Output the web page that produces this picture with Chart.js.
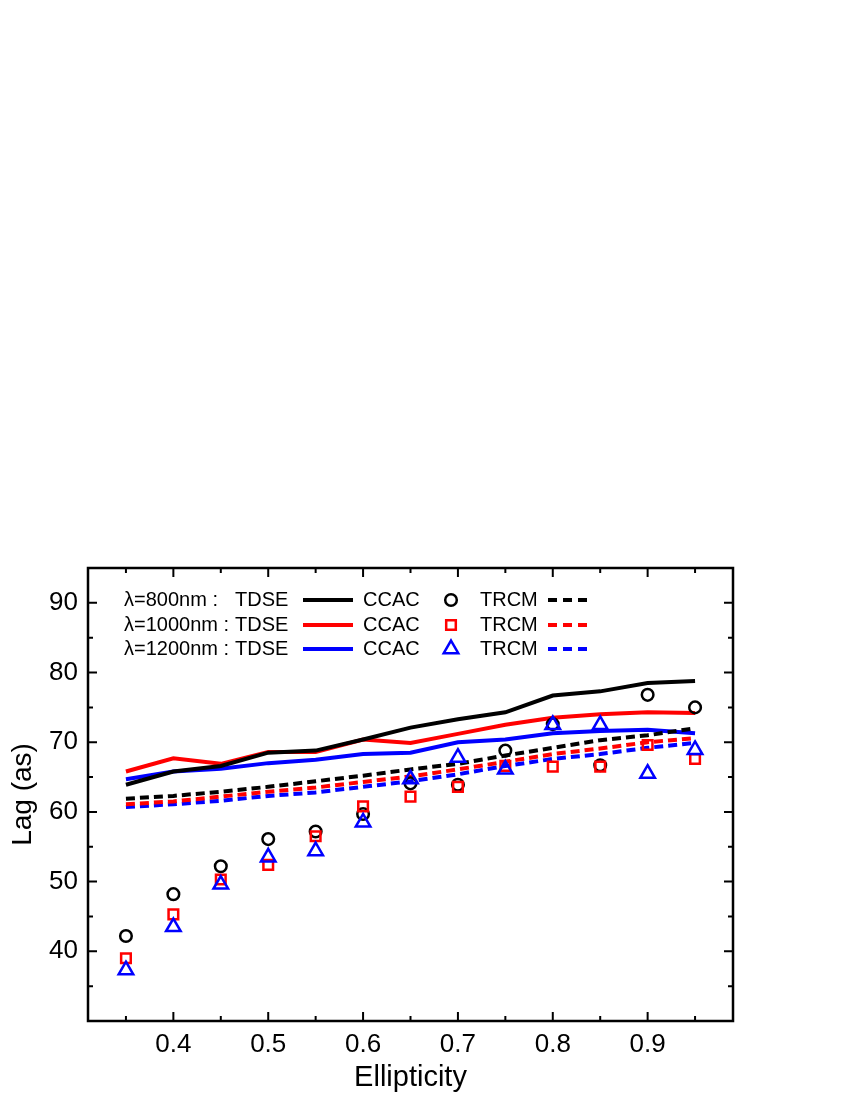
<!DOCTYPE html>
<html>
<head>
<meta charset="utf-8">
<script src="https://cdn.jsdelivr.net/npm/chart.js@4.4.1/dist/chart.umd.min.js"></script>
<style>
  html, body { margin: 0; padding: 0; background: #fff; }
  canvas { display: block; }
</style>
</head>
<body>
<canvas id="myChart" width="850" height="1100"></canvas>
<script>
// ellipticity values
const ellipticity = [0.35, 0.4, 0.45, 0.5, 0.55, 0.6, 0.65, 0.7, 0.75, 0.8, 0.85, 0.9, 0.95];

// solid lines (TDSE)
const tdse800 = [63.9, 65.8, 66.6, 68.5, 68.8, 70.4, 72.1, 73.3, 74.3, 76.7, 77.3, 78.5, 78.8];
const tdse1000 = [65.8, 67.7, 66.9, 68.6, 68.6, 70.4, 69.9, 71.2, 72.5, 73.5, 74.0, 74.3, 74.2];
const tdse1200 = [64.7, 65.8, 66.2, 67.0, 67.5, 68.3, 68.5, 70.0, 70.4, 71.3, 71.6, 71.8, 71.3];

// markers (CCAC)
const ccac800 = [42.2, 48.2, 52.2, 56.1, 57.2, 59.7, 64.1, 63.9, 68.8, 72.6, 66.7, 76.8, 75.0];
const ccac1000 = [39.0, 45.3, 50.3, 52.4, 56.5, 60.8, 62.2, 63.6, 66.6, 66.5, 66.5, 69.6, 67.6];
const ccac1200 = [37.3, 43.5, 49.6, 53.5, 54.4, 58.5, 64.7, 67.8, 66.1, 72.5, 72.5, 65.5, 68.9];

// dashed lines (TRCM)
const trcm800 = [61.9, 62.3, 62.9, 63.6, 64.4, 65.2, 66.1, 66.9, 68.1, 69.2, 70.3, 71.0, 72.0];
const trcm1000 = [61.1, 61.5, 62.2, 62.9, 63.5, 64.3, 65.1, 66.1, 67.2, 68.3, 69.1, 70.0, 70.6];
const trcm1200 = [60.7, 61.1, 61.6, 62.3, 62.8, 63.6, 64.4, 65.4, 66.6, 67.6, 68.3, 69.2, 69.9];

// ticks
const xTicks = [0.4, 0.5, 0.6, 0.7, 0.8, 0.9];
const xMinorTicks = [0.35, 0.45, 0.55, 0.65, 0.75, 0.85, 0.95];
const yTicks = [40, 50, 60, 70, 80, 90];
const yMinorTicks = [35, 45, 55, 65, 75, 85];

const wavelengths = ['λ=800nm :', 'λ=1000nm :', 'λ=1200nm :'];
const colors = ['#000000', '#ff0000', '#0000ff'];

const FONT = '"Liberation Sans", Arial, sans-serif';

const pts = (ys) => ellipticity.map((x, i) => ({x: x, y: ys[i]}));

const solidLine = (ys, color) => ({
    data: pts(ys),
    borderColor: color,
    borderWidth: 4,
    pointRadius: 0,
    tension: 0,
    order: 5,
});
const dashedLine = (ys, color) => ({
    data: pts(ys),
    borderColor: color,
    borderWidth: 4,
    borderDash: [9, 5],
    pointRadius: 0,
    tension: 0,
    order: 4,
});
const markers = (ys, color, style, r, order) => ({
    data: pts(ys),
    showLine: false,
    borderColor: color,
    backgroundColor: 'rgba(0,0,0,0)',
    borderWidth: 2.5,
    pointStyle: style,
    pointRadius: r,
    order: order,
});

const data = {
    datasets: [
        solidLine(tdse800, colors[0]),
        solidLine(tdse1000, colors[1]),
        solidLine(tdse1200, colors[2]),
        dashedLine(trcm800, colors[0]),
        dashedLine(trcm1000, colors[1]),
        dashedLine(trcm1200, colors[2]),
        markers(ccac800, colors[0], 'circle', 5.8, 3),
        markers(ccac1000, colors[1], 'rect', 6.8, 2),
        markers(ccac1200, colors[2], 'triangle', 8.4, 1),
    ]
};

// frame, inward ticks and the three-column legend
const frameAndLegend = {
    id: 'frameAndLegend',
    afterDraw(chart) {
        const {ctx, chartArea: a, scales: {x, y}} = chart;
        ctx.save();
        ctx.strokeStyle = '#000';
        ctx.lineWidth = 2;
        ctx.beginPath();
        const xt = (vals, len) => vals.forEach(v => {
            const px = x.getPixelForValue(v);
            ctx.moveTo(px, a.bottom); ctx.lineTo(px, a.bottom - len);
            ctx.moveTo(px, a.top); ctx.lineTo(px, a.top + len);
        });
        const yt = (vals, len) => vals.forEach(v => {
            const py = y.getPixelForValue(v);
            ctx.moveTo(a.left, py); ctx.lineTo(a.left + len, py);
            ctx.moveTo(a.right, py); ctx.lineTo(a.right - len, py);
        });
        xt(xTicks, 9); xt(xMinorTicks, 5);
        yt(yTicks, 9); yt(yMinorTicks, 5);
        ctx.stroke();
        ctx.lineWidth = 2.5;
        ctx.strokeRect(a.left, a.top, a.right - a.left, a.bottom - a.top);

        // legend
        const rowY = [32, 57, 81];
        const styles = ['circle', 'rect', 'triangle'];
        const radii = [5.8, 6.8, 8.4];
        ctx.font = '20px ' + FONT;
        ctx.textBaseline = 'middle';
        ctx.textAlign = 'left';
        wavelengths.forEach((w, i) => {
            const yy = a.top + rowY[i];
            const c = colors[i];
            ctx.fillStyle = '#000';
            ctx.fillText(w, a.left + 36, yy);
            ctx.fillText('TDSE', a.left + 147, yy);
            ctx.fillText('CCAC', a.left + 275, yy);
            ctx.fillText('TRCM', a.left + 392, yy);
            ctx.strokeStyle = c;
            ctx.lineWidth = 4;
            ctx.setLineDash([]);
            ctx.beginPath();
            ctx.moveTo(a.left + 215, yy); ctx.lineTo(a.left + 265, yy);
            ctx.stroke();
            ctx.setLineDash([9, 6]);
            ctx.beginPath();
            ctx.moveTo(a.left + 460, yy); ctx.lineTo(a.left + 504, yy);
            ctx.stroke();
            ctx.setLineDash([]);
            ctx.lineWidth = 2.5;
            ctx.fillStyle = 'rgba(0,0,0,0)';
            Chart.helpers.drawPoint(ctx, {pointStyle: styles[i], radius: radii[i], borderWidth: 2.5}, a.left + 363, yy);
        });
        ctx.restore();
    }
};

const config = {
    type: 'line',
    data: data,
    plugins: [frameAndLegend],
    options: {
        responsive: false,
        animation: false,
        layout: {
            padding: {top: 568, right: 117, bottom: 0, left: 0}
        },
        plugins: {
            legend: {display: false},
            tooltip: {enabled: false},
        },
        scales: {
            x: {
                type: 'linear',
                min: 0.31,
                max: 0.99,
                afterBuildTicks: (scale) => { scale.ticks = xTicks.map(v => ({value: v})); },
                afterFit: (scale) => { scale.height = 79; },
                grid: {display: false, drawTicks: false},
                border: {display: false},
                ticks: {
                    color: '#000',
                    padding: 8,
                    maxRotation: 0,
                    font: {family: FONT, size: 26},
                    callback: (v) => Number(v).toFixed(1),
                },
                title: {
                    display: true,
                    text: 'Ellipticity',
                    color: '#000',
                    font: {family: FONT, size: 29},
                    padding: {top: 0, bottom: 5},
                },
            },
            y: {
                min: 30,
                max: 95,
                afterBuildTicks: (scale) => { scale.ticks = yTicks.map(v => ({value: v})); },
                afterFit: (scale) => { scale.width = 88; },
                grid: {display: false, drawTicks: false},
                border: {display: false},
                ticks: {
                    color: '#000',
                    padding: 10,
                    font: {family: FONT, size: 26},
                },
                title: {
                    display: true,
                    text: 'Lag (as)',
                    color: '#000',
                    font: {family: FONT, size: 28},
                    padding: {top: 6, bottom: 0},
                },
            }
        }
    },
};

const myChart = new Chart(document.getElementById('myChart'), config);
</script>
</body>
</html>
